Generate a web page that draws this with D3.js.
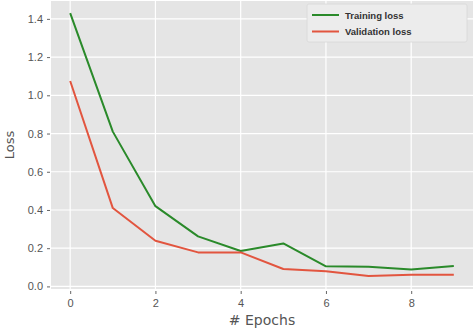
<!DOCTYPE html>
<html>
<head>
<meta charset="utf-8">
<script src="https://cdn.jsdelivr.net/npm/d3@7"></script>
<style>
  html, body { margin: 0; padding: 0; background: #fff; }
  svg { display: block; font-family: "DejaVu Sans", sans-serif; }
</style>
</head>
<body>
<svg id="chart" width="474" height="331"></svg>
<script>
// Loss per epoch
const epochs = [0, 1, 2, 3, 4, 5, 6, 7, 8, 9];
const trainingLoss = [1.43, 0.81, 0.42, 0.262, 0.185, 0.225, 0.105, 0.103, 0.089, 0.107];
const validationLoss = [1.075, 0.41, 0.239, 0.178, 0.178, 0.091, 0.079, 0.054, 0.061, 0.061];
const xTicks = [0, 2, 4, 6, 8];
const yTicks = [0.0, 0.2, 0.4, 0.6, 0.8, 1.0, 1.2, 1.4];
const seriesNames = ["Training loss", "Validation loss"];
const seriesColors = ["#2a8a2a", "#e2553f"];

const svg = d3.select("#chart");
const plot = { left: 51, right: 473, top: 1, bottom: 289 };

const x = d3.scaleLinear().domain([-0.45, 9.45]).range([plot.left, plot.right]);
const y = d3.scaleLinear().domain([-0.0135, 1.4935]).range([plot.bottom, plot.top]);

// panel background
svg.append("rect")
  .attr("x", plot.left).attr("y", plot.top)
  .attr("width", plot.right - plot.left).attr("height", plot.bottom - plot.top)
  .attr("fill", "#e5e5e5");

// grid
const grid = svg.append("g").attr("stroke", "#fff").attr("stroke-width", 1.2);
grid.selectAll("line.gx").data(xTicks).join("line")
  .attr("x1", d => x(d)).attr("x2", d => x(d))
  .attr("y1", plot.top).attr("y2", plot.bottom);
grid.selectAll("line.gy").data(yTicks).join("line")
  .attr("x1", plot.left).attr("x2", plot.right)
  .attr("y1", d => y(d)).attr("y2", d => y(d));

// axes
const xAxis = d3.axisBottom(x).tickValues(xTicks).tickFormat(d3.format("d"))
  .tickSize(3).tickPadding(5);
const yAxis = d3.axisLeft(y).tickValues(yTicks).tickFormat(d3.format(".1f"))
  .tickSize(3).tickPadding(4);

const gx = svg.append("g").attr("transform", `translate(0,${plot.bottom + 2})`).call(xAxis);
const gy = svg.append("g").attr("transform", `translate(${plot.left - 1},0)`).call(yAxis);
[gx, gy].forEach(g => {
  g.select(".domain").remove();
  g.selectAll(".tick line").attr("stroke", "#666");
  g.selectAll(".tick text").attr("fill", "#555").attr("font-size", 11);
});

// axis titles
svg.append("text")
  .attr("x", (plot.left + plot.right) / 2).attr("y", 325)
  .attr("text-anchor", "middle").attr("font-size", 14).attr("fill", "#555")
  .text("# Epochs");
svg.append("text")
  .attr("transform", `translate(14,${(plot.top + plot.bottom) / 2}) rotate(-90)`)
  .attr("text-anchor", "middle").attr("font-size", 13).attr("fill", "#555")
  .text("Loss");

// lines
const line = d3.line().x((d, i) => x(epochs[i])).y(d => y(d));
[trainingLoss, validationLoss].forEach((vals, k) => {
  svg.append("path")
    .attr("d", line(vals))
    .attr("fill", "none")
    .attr("stroke", seriesColors[k])
    .attr("stroke-width", 2)
    .attr("stroke-linejoin", "round");
});

// legend
const lg = svg.append("g");
lg.append("rect")
  .attr("x", 307).attr("y", 4).attr("width", 160).attr("height", 38)
  .attr("fill", "#ececec").attr("stroke", "#d8d8d8").attr("stroke-width", 0.8)
  .attr("rx", 2);
seriesNames.forEach((name, k) => {
  const ly = 15 + k * 16.5;
  lg.append("line")
    .attr("x1", 312).attr("x2", 339).attr("y1", ly).attr("y2", ly)
    .attr("stroke", seriesColors[k]).attr("stroke-width", 2);
  lg.append("text")
    .attr("x", 345).attr("y", ly + 3.5)
    .attr("font-family", "'Liberation Sans', Arial, sans-serif")
    .attr("font-size", 9.5).attr("font-weight", "bold").attr("fill", "#333")
    .text(name);
});
</script>
</body>
</html>
